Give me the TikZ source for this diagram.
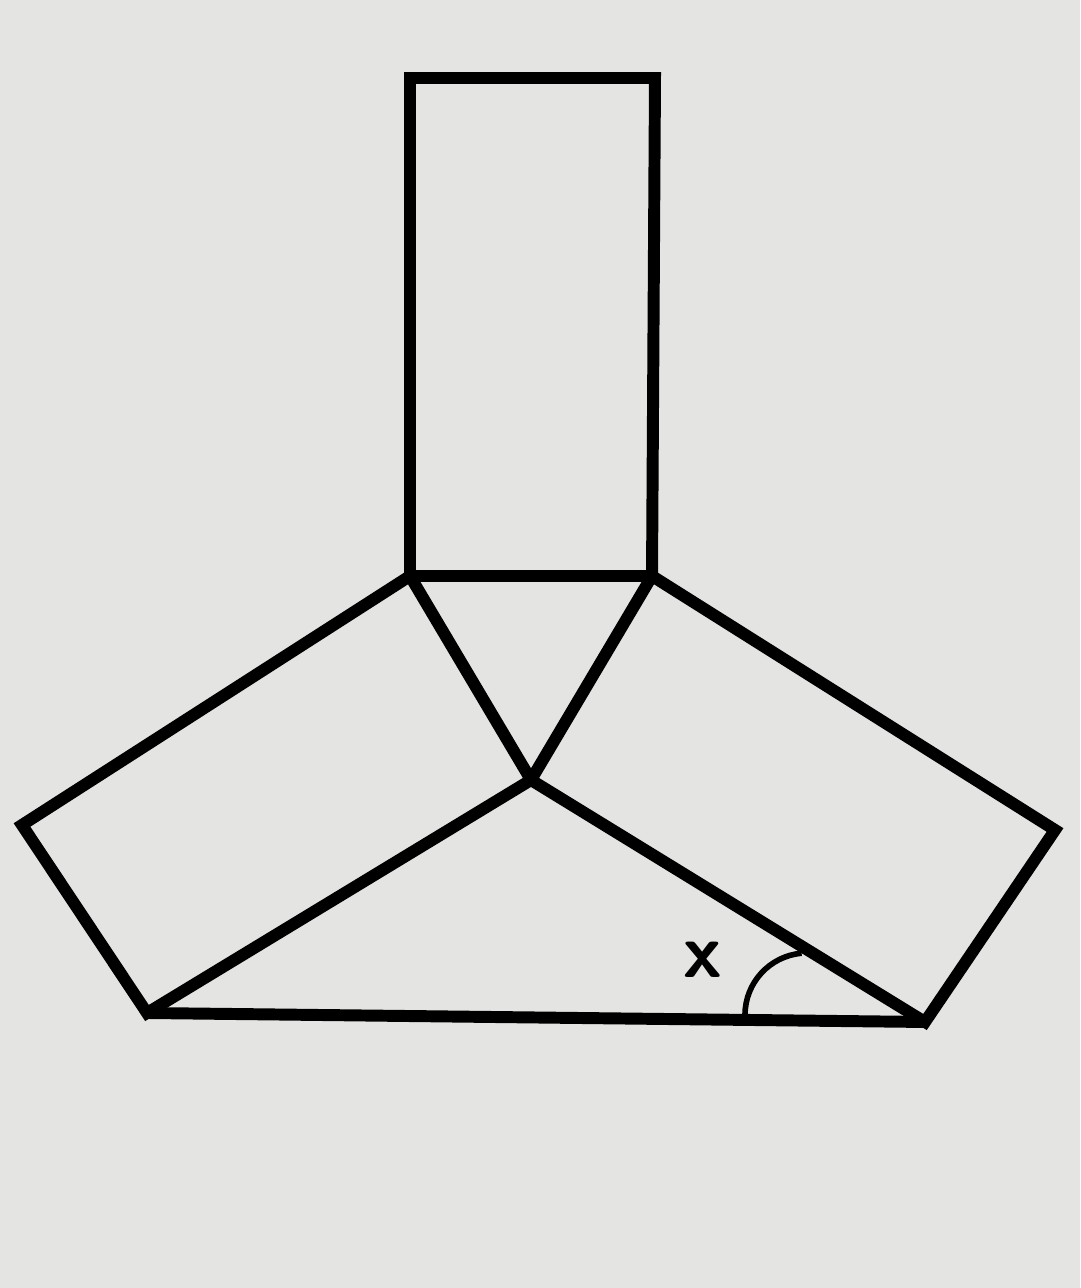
\documentclass[tikz,border=0pt]{standalone}
\usepackage{tikz}
\usetikzlibrary{calc}
\definecolor{paper1}{RGB}{228, 228, 226}

\begin{document}
\begin{tikzpicture}[line width=3.4pt, line join=miter]
  \fill[paper1] (0,0) rectangle (10.8,12.88);
  \useasboundingbox (0,0) rectangle (10.8,12.88);

  \coordinate (t1) at (4.10,12.10);
  \coordinate (t2) at (6.55,12.10);
  \coordinate (a) at (4.10,7.12);
  \coordinate (b) at (6.52,7.12);
  \coordinate (o) at (5.31,5.08);
  \coordinate (l) at (0.22,4.63);
  \coordinate (p) at (1.47,2.75);
  \coordinate (r) at (10.55,4.58);
  \coordinate (q) at (9.25,2.66);

  % top rectangle
  \draw (t1) -- (t2) -- (b) -- (a) -- cycle;
  % side rectangles
  \draw (a) -- (l) -- (p) -- (o) -- cycle;
  \draw (b) -- (r) -- (q) -- (o) -- cycle;
  \foreach \from/\to in {p/q}
   \draw (\from) -- (\to);

  % angle x
  \draw[line width=1.6pt] ($(q)+(-1.80,0.07)$) arc (180:95:0.62);
  \node[font=\fontsize{22}{26}\selectfont\bfseries\sffamily] (lx) at (7.03,3.28) {x};
\end{tikzpicture}
\end{document}
